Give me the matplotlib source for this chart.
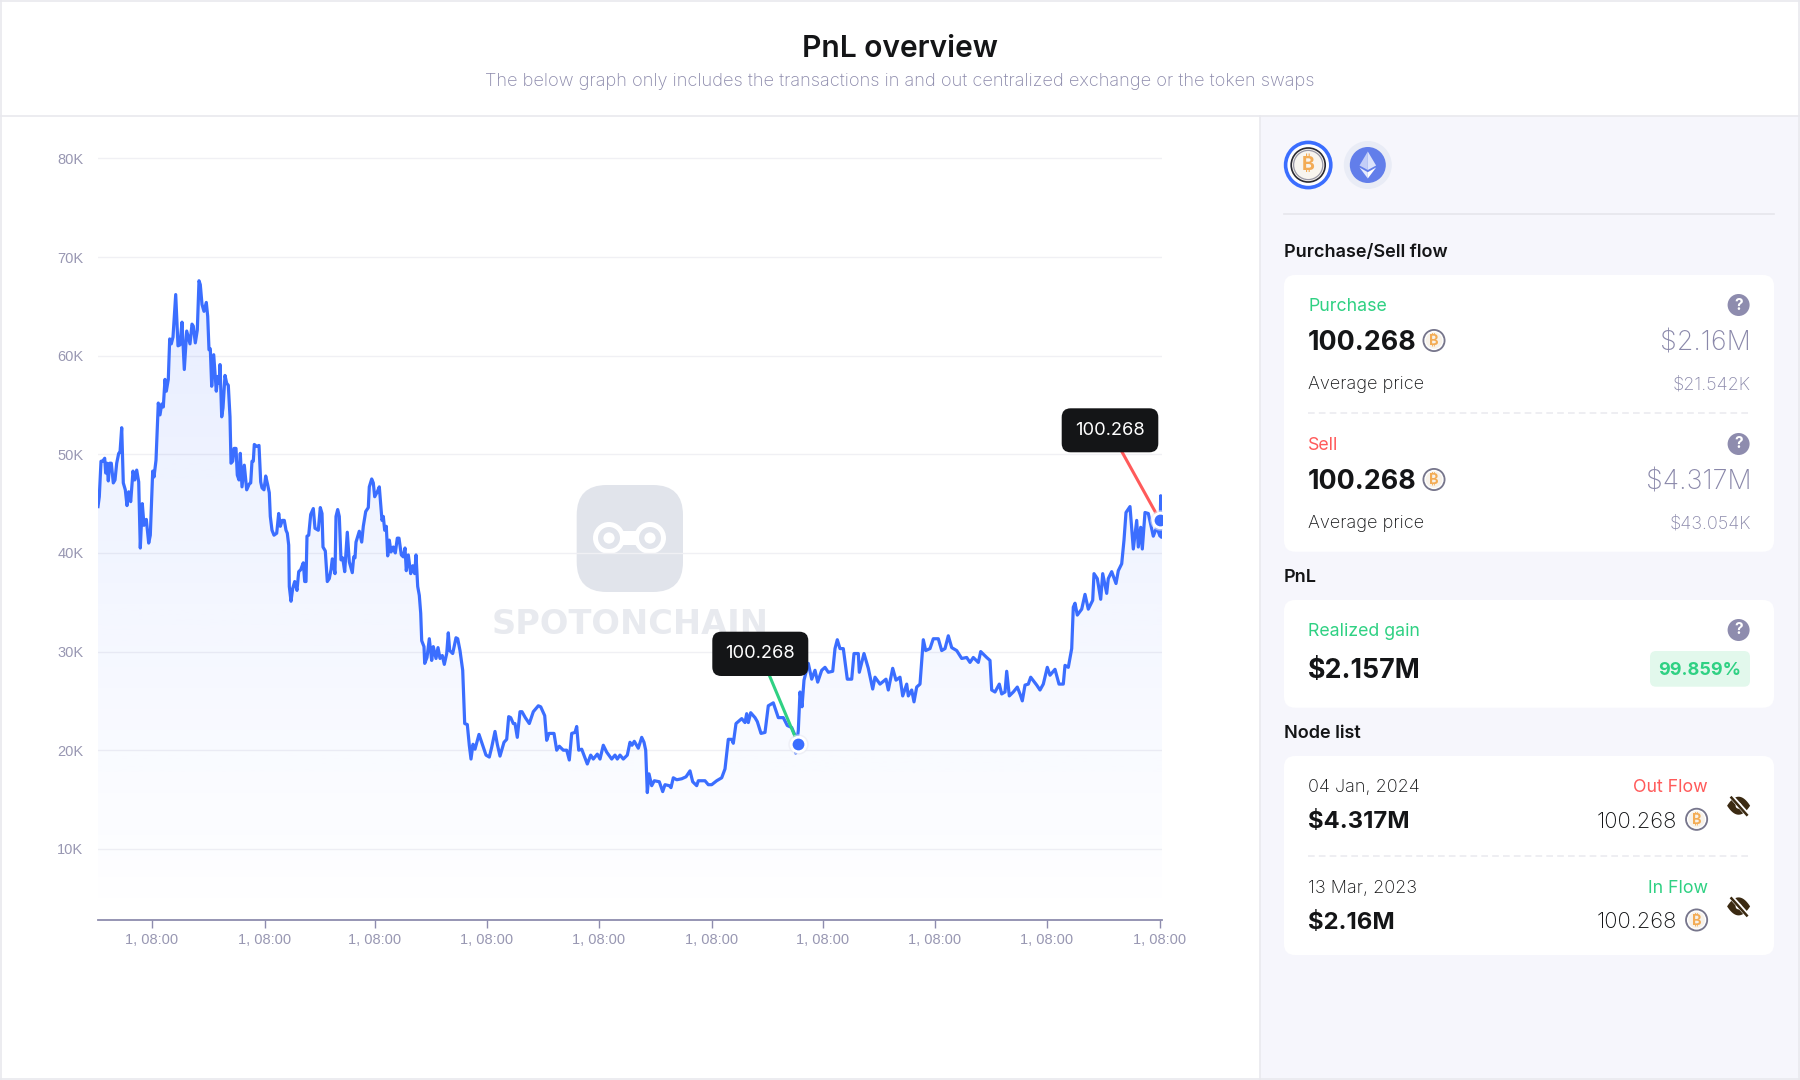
import numpy as np
import matplotlib
matplotlib.use('Agg')
import matplotlib.pyplot as plt
from matplotlib.patches import Circle, FancyBboxPatch, Polygon, Rectangle

plt.rcParams['font.family'] = ['Inter', 'Noto Sans', 'DejaVu Sans']

BLUE = '#3B6EFF'
GREEN = '#2FD183'
RED = '#FF5A5A'
MUTED = '#8A88AA'
TICK = '#9897B2'
AXIS = '#8E8CAE'
DARK = '#141517'
BTC = ['Inter', 'Noto Sans', 'DejaVu Sans']

# price in thousand USD against an arbitrary time position
t_values = [
    0, 1.3, 3, 4.7, 6.7, 7.7, 9, 10.3, 11.7, 13.3, 15.3, 17, 18.7, 20.7, 22, 23.7, 25.3, 27.3, 29, 30.7,
    32.7, 35, 36.7, 38.7, 40.7, 42.3, 44.3, 46, 48.3, 50.7, 52.3, 54.7, 56, 58, 60.3, 62, 63.7, 65.3, 67, 68.3,
    70.3, 71.7, 73.3, 75, 77.7, 80, 82, 84, 86.3, 88.7, 92, 94, 95.3, 97.3, 99.3, 101, 102.3, 104, 106, 108.3,
    109.7, 111, 112.3, 113.7, 115.7, 118.3, 119.7, 121.3, 122, 123.7, 125, 127, 128.7, 130.3, 132, 133, 134.7, 136, 138, 139.3,
    141, 142.3, 144, 146.3, 148.7, 151.3, 152.7, 154, 155.3, 156.3, 158.7, 161, 162.7, 164, 166, 167.7, 169.7, 171.3, 172.3, 174,
    176, 178.7, 180.7, 182.3, 184.3, 186.3, 188, 189.3, 190.7, 191.3, 193, 194.7, 196.7, 199, 200.7, 202.7, 205.3, 206.7, 208, 209,
    210.7, 212.7, 215.3, 217, 220.3, 222.3, 224, 225, 227.3, 229.3, 231.3, 233, 234.3, 237, 238, 239.7, 241.3, 243, 244.7, 246.7,
    249.3, 251.3, 254.3, 255.7, 257, 258, 261.3, 263.7, 265.3, 267.7, 270.3, 271.3, 273.7, 275.3, 276.7, 279.3, 281.3, 282.7, 284, 285.3,
    286.7, 288.3, 289.7, 291.3, 293, 295.3, 297.3, 299.3, 301, 303.3, 305.3, 307, 308.3, 310.3, 312.7, 314.7, 316.7, 318, 319.7, 321.3,
    322.7, 323.7, 326, 326.7, 329, 331.3, 333.7, 335.3, 338, 340, 342, 344.3, 346.3, 348.7, 350.3, 351.7, 354.7, 358, 359.7, 362,
    364.7, 366.7, 369.3, 371.3, 373, 375, 377, 381, 383.7, 388, 391.3, 393.7, 397, 399.3, 402, 406, 408.7, 410.7, 412.7, 415.3,
    417, 419.3, 422, 424, 427.3, 431.3, 435.3, 440.3, 442.7, 446.7, 448.7, 451, 456, 458.7, 461.3, 465.3, 468.7, 471.3, 473.7, 477,
    478.7, 480.7, 483.7, 489.3, 492.7, 495.3, 499.3, 502, 505.3, 508.7, 513.7, 517, 519.3, 522, 525.3, 529.3, 532, 534, 536.3, 540.3,
    543.7, 546, 547.7, 549.3, 551, 553.7, 556.3, 561.3, 564.7, 567, 571.3, 573, 575.3, 578.7, 583.7, 588, 592, 594.7, 598.7, 600.3,
    607, 610.3, 613.7, 618.7, 623.7, 627, 630.3, 633.7, 635.3, 638, 643.7, 647, 648.7, 650.3, 652.7, 657, 659.3, 663, 667, 670.3,
    675.3, 680.3, 685.3, 689.3, 693.7, 697, 697.7, 700.3, 702, 704, 706, 710.3, 713.7, 717, 719.7, 723.7, 727, 730.3, 734.7, 737,
    739.3, 742, 745.3, 749.3, 753.7, 756, 760.3, 761.3, 766, 770.3, 774.7, 777, 782, 788, 790.3, 794.7, 798, 802, 804.7, 808.7,
    810.3, 813.7, 816, 818.7, 822, 825.3, 827.7, 832, 835.3, 840.3, 843.7, 847, 850.3, 853.7, 858.7, 863.7, 868.7, 872, 875.3, 880.3,
    882.7, 888.7, 892, 893.7, 897, 901.3, 903.7, 907, 908.7, 911.3, 915.3, 919.3, 922, 924.3, 927, 930.3, 932.7, 938.7, 942, 945.3,
    949.3, 952, 957, 961, 965.3, 967, 970.3, 973.7, 975.3, 977, 979.3, 983.7, 987, 990.3, 994.7, 996, 999.3, 1002.7, 1004.7, 1008.7,
    1010.3, 1013.7, 1018, 1020.3, 1023.7, 1026, 1028, 1032, 1035.3, 1038.7, 1040.3, 1042.7, 1044.3, 1047, 1050.3, 1055.3, 1058.7, 1062, 1062.7, 1064,
]
price_k = [
    44.7, 45.7, 49.3, 49.3, 49.6, 48.1, 49.1, 47.3, 49.1, 49.1, 47.1, 47.4, 49.1, 50.1, 50.2, 52.7, 47.1, 46.4, 44.8, 46.2,
    45.2, 48.3, 47.4, 48.4, 47.2, 40.5, 45.0, 42.8, 43.4, 41.0, 41.8, 48.3, 47.7, 49.4, 55.2, 54.0, 55.1, 54.8, 57.6, 56.4,
    57.6, 61.7, 61.2, 61.9, 66.2, 61.0, 61.1, 63.4, 58.6, 62.5, 61.2, 63.2, 63.0, 61.3, 62.6, 67.6, 67.2, 65.2, 64.5, 65.4,
    64.0, 60.6, 60.7, 56.9, 60.1, 56.4, 57.9, 57.2, 59.1, 53.8, 54.7, 58.0, 57.2, 57.0, 53.8, 49.1, 49.3, 50.6, 50.6, 47.9,
    47.4, 50.1, 46.7, 48.9, 46.4, 47.0, 47.1, 49.3, 49.3, 51.0, 50.8, 50.9, 47.2, 46.6, 46.4, 47.8, 46.9, 46.1, 43.7, 42.3,
    41.8, 42.0, 44.0, 42.7, 43.3, 43.3, 42.3, 42.0, 40.8, 36.6, 35.1, 36.4, 37.1, 36.2, 38.1, 38.3, 39.0, 37.1, 37.1, 41.7,
    41.8, 43.9, 44.5, 42.5, 42.3, 44.6, 44.0, 40.6, 40.2, 37.1, 37.4, 38.3, 39.4, 37.9, 43.7, 44.4, 43.7, 39.3, 39.5, 38.1,
    42.1, 39.1, 38.0, 39.6, 39.5, 41.1, 42.2, 41.1, 42.7, 44.2, 44.6, 46.7, 47.5, 47.1, 45.7, 46.2, 46.7, 45.0, 43.3, 43.7,
    42.3, 42.7, 39.7, 41.3, 40.1, 40.6, 40.0, 41.5, 41.5, 39.8, 39.6, 40.5, 38.2, 39.8, 37.9, 38.7, 37.9, 39.8, 36.6, 35.7,
    33.9, 31.1, 30.5, 28.8, 29.4, 31.3, 29.1, 30.5, 29.3, 30.4, 29.3, 29.6, 28.7, 29.8, 31.9, 30.1, 29.8, 31.4, 31.3, 30.1,
    28.1, 22.7, 22.6, 20.5, 19.1, 20.6, 20.1, 21.6, 20.8, 19.5, 19.3, 20.3, 21.9, 20.6, 19.4, 20.8, 21.1, 23.4, 23.3, 22.7,
    22.7, 21.3, 23.9, 23.9, 23.3, 22.7, 23.9, 24.5, 24.4, 23.5, 21.0, 21.7, 21.7, 20.0, 20.4, 20.0, 20.0, 19.0, 21.7, 21.8,
    22.4, 20.0, 20.1, 18.6, 19.5, 19.1, 19.6, 19.1, 20.5, 19.8, 19.1, 19.5, 19.1, 19.5, 19.1, 19.5, 20.8, 20.5, 20.9, 20.2,
    21.3, 20.8, 20.0, 15.7, 17.6, 16.4, 16.9, 16.8, 15.8, 16.5, 16.4, 16.2, 17.2, 17.0, 17.1, 17.3, 17.9, 16.8, 16.4, 16.9,
    16.9, 16.5, 16.5, 16.9, 17.2, 18.1, 21.1, 21.1, 20.7, 22.7, 23.2, 22.8, 23.7, 22.8, 23.8, 23.3, 22.9, 21.7, 21.8, 24.5,
    24.8, 23.3, 23.3, 22.5, 22.3, 21.5, 19.7, 22.0, 25.9, 24.4, 27.1, 28.8, 27.2, 28.1, 26.9, 28.1, 28.4, 27.9, 28.0, 30.3,
    31.2, 30.3, 30.3, 27.2, 27.2, 29.8, 29.8, 27.9, 29.8, 28.3, 26.2, 27.4, 26.7, 27.2, 26.1, 28.3, 27.1, 27.4, 25.5, 26.7,
    25.5, 26.1, 24.9, 26.4, 26.7, 31.2, 30.1, 30.3, 31.3, 31.3, 30.1, 30.3, 31.6, 30.4, 30.1, 29.3, 29.4, 28.9, 29.4, 28.9,
    30.0, 29.4, 29.1, 26.1, 25.9, 26.7, 25.7, 25.9, 28.0, 25.5, 25.9, 26.4, 25.7, 25.0, 26.6, 26.7, 27.4, 26.6, 26.1, 26.7,
    28.4, 27.6, 28.2, 26.7, 26.7, 28.6, 28.4, 30.3, 34.5, 34.9, 33.7, 34.3, 35.8, 34.3, 35.2, 37.9, 37.4, 35.3, 37.9, 35.9,
    37.4, 38.1, 36.9, 38.2, 38.9, 41.3, 44.1, 44.7, 40.4, 43.3, 40.6, 42.6, 40.4, 44.1, 44.0, 41.7, 42.6, 41.7, 45.8, 41.6,
]

x_ticks = [53.7, 166.6, 276.9, 388.6, 500.7, 613.8, 725, 836.5, 949, 1061.5]
x_labels = ['1, 08:00'] * 10
y_ticks = [10, 20, 30, 40, 50, 60, 70, 80]

node_t = [700.3, 1062]
node_price = [20.6, 43.3]
node_colors = [GREEN, RED]
node_amount = '100.268'

fig = plt.figure(figsize=(18, 10.8), dpi=100, facecolor='white')


def layer(z):
    a = fig.add_axes([0, 0, 1, 1], zorder=z)
    a.set_xlim(0, 1800)
    a.set_ylim(1080, 0)
    a.axis('off')
    a.patch.set_alpha(0)
    return a


bg = layer(0)
top = layer(2)


def txt(a, x, y, s, size, color='#141517', weight='normal', ha='left', **kw):
    # va=center sits a little high for this font
    a.text(x, y + size * 0.14, s, fontsize=size, color=color, fontweight=weight, ha=ha, va='center', **kw)


def card(a, x0, y0, x1, y1, r=11, color='white', z=1):
    a.add_patch(FancyBboxPatch((x0 + r, y0 + r), x1 - x0 - 2 * r, y1 - y0 - 2 * r,
                               boxstyle=f'round,pad={r},rounding_size={r}',
                               fc=color, ec='none', zorder=z))


def coin(a, x, y, r):
    a.add_patch(Circle((x, y), r, fc='#77768C', ec='none', zorder=3))
    a.add_patch(Circle((x, y), r * 0.84, fc='white', ec='none', zorder=3))
    a.add_patch(Circle((x, y), r * 0.72, fc='#F7F2EA', ec='none', zorder=3))
    a.text(x, y, '₿', fontsize=r * 0.9, color='#F3AC55', ha='center', va='center',
           family=BTC, fontweight='bold', zorder=4)


def question(a, x, y):
    a.add_patch(Circle((x, y), 11, fc=AXIS, ec='none', zorder=3))
    a.text(x, y, '?', fontsize=11, color='white', ha='center', va='center', fontweight='bold', zorder=4)


def eye_off(a, x, y):
    u = np.linspace(-1, 1, 30)
    up = np.column_stack([x + 11.5 * u, y - 9 * (1 - u ** 2)])
    lo = np.column_stack([x + 11.5 * u[::-1], y + 9 * (1 - u[::-1] ** 2)])
    a.add_patch(Polygon(np.vstack([up, lo]), fc='#3B2A12', ec='none', zorder=3))
    a.add_patch(Circle((x, y), 3, fc='white', ec='none', zorder=3))
    a.plot([x - 8, x + 9], [y - 10, y + 9], color='white', lw=3.4, zorder=4, solid_capstyle='butt')
    a.plot([x - 8, x + 9], [y - 9, y + 10], color='#3B2A12', lw=1.8, zorder=5, solid_capstyle='butt')


# page frame, header and side panel
bg.add_patch(Rectangle((1259.5, 116), 540.5, 964, fc='#F6F6FC', ec='none', zorder=0))
frame = '#E9E9EE'
bg.plot([0, 1800], [116, 116], color=frame, lw=1.2, zorder=1)
bg.plot([0, 1800], [0.8, 0.8], color=frame, lw=1.2, zorder=1)
bg.plot([0, 1800], [1079.2, 1079.2], color=frame, lw=1.2, zorder=1)
bg.plot([0.8, 0.8], [0, 1080], color=frame, lw=1.2, zorder=1)
bg.plot([1799.2, 1799.2], [0, 1080], color=frame, lw=1.2, zorder=1)
bg.plot([1259.5, 1259.5], [116, 1080], color=frame, lw=1.2, zorder=1)
txt(bg, 900, 46, 'PnL overview', 21.6, weight='semibold', ha='center')
txt(bg, 900, 79.5, 'The below graph only includes the transactions in and out centralized exchange or the token swaps',
    13.1, color=MUTED, weight='light', ha='center')

# watermark behind the chart
card(bg, 576.7, 485, 683, 592, r=30, color='#E1E4EB')
bg.add_patch(Circle((609, 538), 16, fc='white', ec='none', zorder=2))
bg.add_patch(Circle((650, 538), 16, fc='white', ec='none', zorder=2))
bg.add_patch(Rectangle((612, 531), 35, 14, fc='white', ec='none', zorder=2))
for cx in (609, 650):
    bg.add_patch(Circle((cx, 538), 11, fc='#E1E4EB', ec='none', zorder=3))
    bg.add_patch(Circle((cx, 538), 5.6, fc='white', ec='none', zorder=3))
bg.text(630, 624.5, 'SPOTONCHAIN', fontsize=24.2, color='#E8EAEF', ha='center', va='center',
        family='DejaVu Sans', fontweight='bold')

# chart
ax = fig.add_axes([98 / 1800, 160 / 1080, 1064 / 1800, 800 / 1080], zorder=1)
ax.patch.set_alpha(0)
ax.set_xlim(0, 1064)
ax.set_ylim(2.78, 83.9)
for side in ('top', 'left', 'right'):
    ax.spines[side].set_visible(False)
ax.spines['bottom'].set_color(AXIS)
ax.spines['bottom'].set_linewidth(1.3)
ax.set_xticks(x_ticks)
ax.set_xticklabels(x_labels)
ax.set_yticks(y_ticks)
ax.set_yticklabels([f'{v}K' for v in y_ticks])
ax.tick_params(axis='x', length=5.8, width=1, color=AXIS, pad=3.8, labelcolor=TICK)
ax.tick_params(axis='y', length=0, pad=10.6, labelcolor=TICK)
for lab in ax.get_xticklabels() + ax.get_yticklabels():
    lab.set_family('Liberation Sans')
    lab.set_fontsize(10.5)
ax.grid(axis='y', color='#F0F0F4', lw=1)
ax.set_axisbelow(True)

under = ax.fill_between(t_values, price_k, 2.78, color='none', lw=0)
grad = np.zeros((256, 1, 4))
grad[..., :3] = matplotlib.colors.to_rgb(BLUE)
grad[..., 3] = np.linspace(0.12, 0, 256)[:, None]
im = ax.imshow(grad, extent=(0, 1064, 2.78, 68), aspect='auto', origin='upper', zorder=1.5)
im.set_clip_path(under.get_paths()[0], transform=ax.transData)
ax.set_xlim(0, 1064)
ax.set_ylim(2.78, 83.9)

ax.plot(t_values, price_k, color=BLUE, lw=2.3, zorder=3, solid_joinstyle='round')

tip_boxes = [(712.3, 631.7, 808.3, 676), (1061.7, 408.3, 1158.3, 452.3)]
for (t, p, c, box) in zip(node_t, node_price, node_colors, tip_boxes):
    cx = (box[0] + box[2]) / 2
    cy = (box[1] + box[3]) / 2
    ax.annotate('', xy=(t, p), xytext=(cx, 1080 - cy), textcoords='figure pixels', annotation_clip=False,
                arrowprops=dict(arrowstyle='-', color=c, lw=2.2, shrinkA=0, shrinkB=0), zorder=4)
    card(top, box[0], box[1], box[2], box[3], r=9, color=DARK, z=5)
    top.text(cx, cy, node_amount, fontsize=13.2, color='white', fontweight='normal',
             ha='center', va='center', zorder=6)
ax.scatter(node_t, node_price, s=215, color='#E9EAF2', alpha=0.6, lw=0, zorder=4.5)
ax.scatter(node_t, node_price, s=156, color='white', lw=0, zorder=5)
ax.scatter(node_t, node_price, s=72, color=BLUE, lw=0, zorder=6)

# token switch
bg.add_patch(Circle((1308.2, 165), 22.6, fc='white', ec=BLUE, lw=2.6, zorder=2))
bg.add_patch(Circle((1308.2, 165), 17, fc='#F8F5EF', ec='#2A2A33', lw=1.2, zorder=2))
bg.add_patch(Circle((1308.2, 165), 14.6, fc='none', ec='#9A99A6', lw=0.9, zorder=2))
bg.text(1308.2, 165, '₿', fontsize=14, color='#F3AC55', ha='center', va='center', family=BTC,
        fontweight='bold', zorder=3)
ex, ey = 1367.8, 165
bg.add_patch(Circle((ex, ey), 24, fc='#E9ECF6', ec='none', zorder=2))
bg.add_patch(Circle((ex, ey), 18, fc='#627EEA', ec='none', zorder=2))
bg.add_patch(Polygon([(ex, ey - 13.5), (ex - 8.3, ey + 0.5), (ex, ey + 5)], fc='#C3CEF7', ec='none', zorder=3))
bg.add_patch(Polygon([(ex, ey - 13.5), (ex + 8.3, ey + 0.5), (ex, ey + 5)], fc='#DCE3FB', ec='none', zorder=3))
bg.add_patch(Polygon([(ex - 8.3, ey + 2.5), (ex, ey + 13.5), (ex, ey + 7.2)], fc='#E6EBFC', ec='none', zorder=3))
bg.add_patch(Polygon([(ex + 8.3, ey + 2.5), (ex, ey + 13.5), (ex, ey + 7.2)], fc='white', ec='none', zorder=3))
bg.plot([1284, 1774], [214, 214], color='#E6E6EC', lw=1.2, zorder=1)

# purchase / sell
txt(bg, 1284, 250.7, 'Purchase/Sell flow', 13, weight='semibold')
card(bg, 1284, 275, 1774, 551.7)
for y, side, color, amount, value, avg in [(305, 'Purchase', GREEN, '100.268', '$2.16M', '$21.542K'),
                                           (444, 'Sell', RED, '100.268', '$4.317M', '$43.054K')]:
    txt(bg, 1308, y, side, 12.8, color=color, zorder=3)
    question(bg, 1738.6, y)
    txt(bg, 1308, y + 35.5, amount, 19.3, weight='bold', zorder=3)
    coin(bg, 1434, y + 35.5, 11.5)
    txt(bg, 1751, y + 35.5, value, 19.3, color=MUTED, weight='light', ha='right', zorder=3)
    txt(bg, 1308, y + 78, 'Average price', 13, color='#111214', weight='light', zorder=3)
    txt(bg, 1751, y + 78, avg, 13, color=MUTED, weight='light', ha='right', zorder=3)
bg.plot([1308, 1750], [413.3, 413.3], color='#EBEBF0', lw=1.2, ls=(0, (4, 2.5)), zorder=2)

# pnl
txt(bg, 1284, 575.7, 'PnL', 13, weight='semibold')
card(bg, 1284, 600, 1774, 707.7)
txt(bg, 1308, 630, 'Realized gain', 12.8, color=GREEN, zorder=3)
question(bg, 1738.6, 630)
txt(bg, 1308, 668.3, '$2.157M', 19.3, weight='bold', zorder=3)
card(bg, 1650, 651, 1750, 686.7, r=6, color='#E2F8EC', z=2)
txt(bg, 1700, 668.3, '99.859%', 13, color=GREEN, weight='bold', ha='center', zorder=3)

# node list
txt(bg, 1284, 731.7, 'Node list', 13, weight='semibold')
card(bg, 1284, 756, 1774, 955)
for y, date, value, flow, color in [(786, '04 Jan, 2024', '$4.317M', 'Out Flow', RED),
                                    (886.7, '13 Mar, 2023', '$2.16M', 'In Flow', GREEN)]:
    txt(bg, 1308, y, date, 13, color='#111214', weight='light', zorder=3)
    txt(bg, 1308, y + 34, value, 17.2, weight='bold', zorder=3)
    txt(bg, 1708, y, flow, 12.8, color=color, ha='right', zorder=3)
    txt(bg, 1677, y + 33.3, node_amount, 15.8, color='#111214', weight='light', ha='right', zorder=3)
    coin(bg, 1696.6, y + 33.3, 11.5)
    eye_off(bg, 1738.6, y + 19.7)
bg.plot([1308, 1750], [855.7, 855.7], color='#EBEBF0', lw=1.2, ls=(0, (4, 2.5)), zorder=2)

fig.savefig('out.png', dpi=100)
